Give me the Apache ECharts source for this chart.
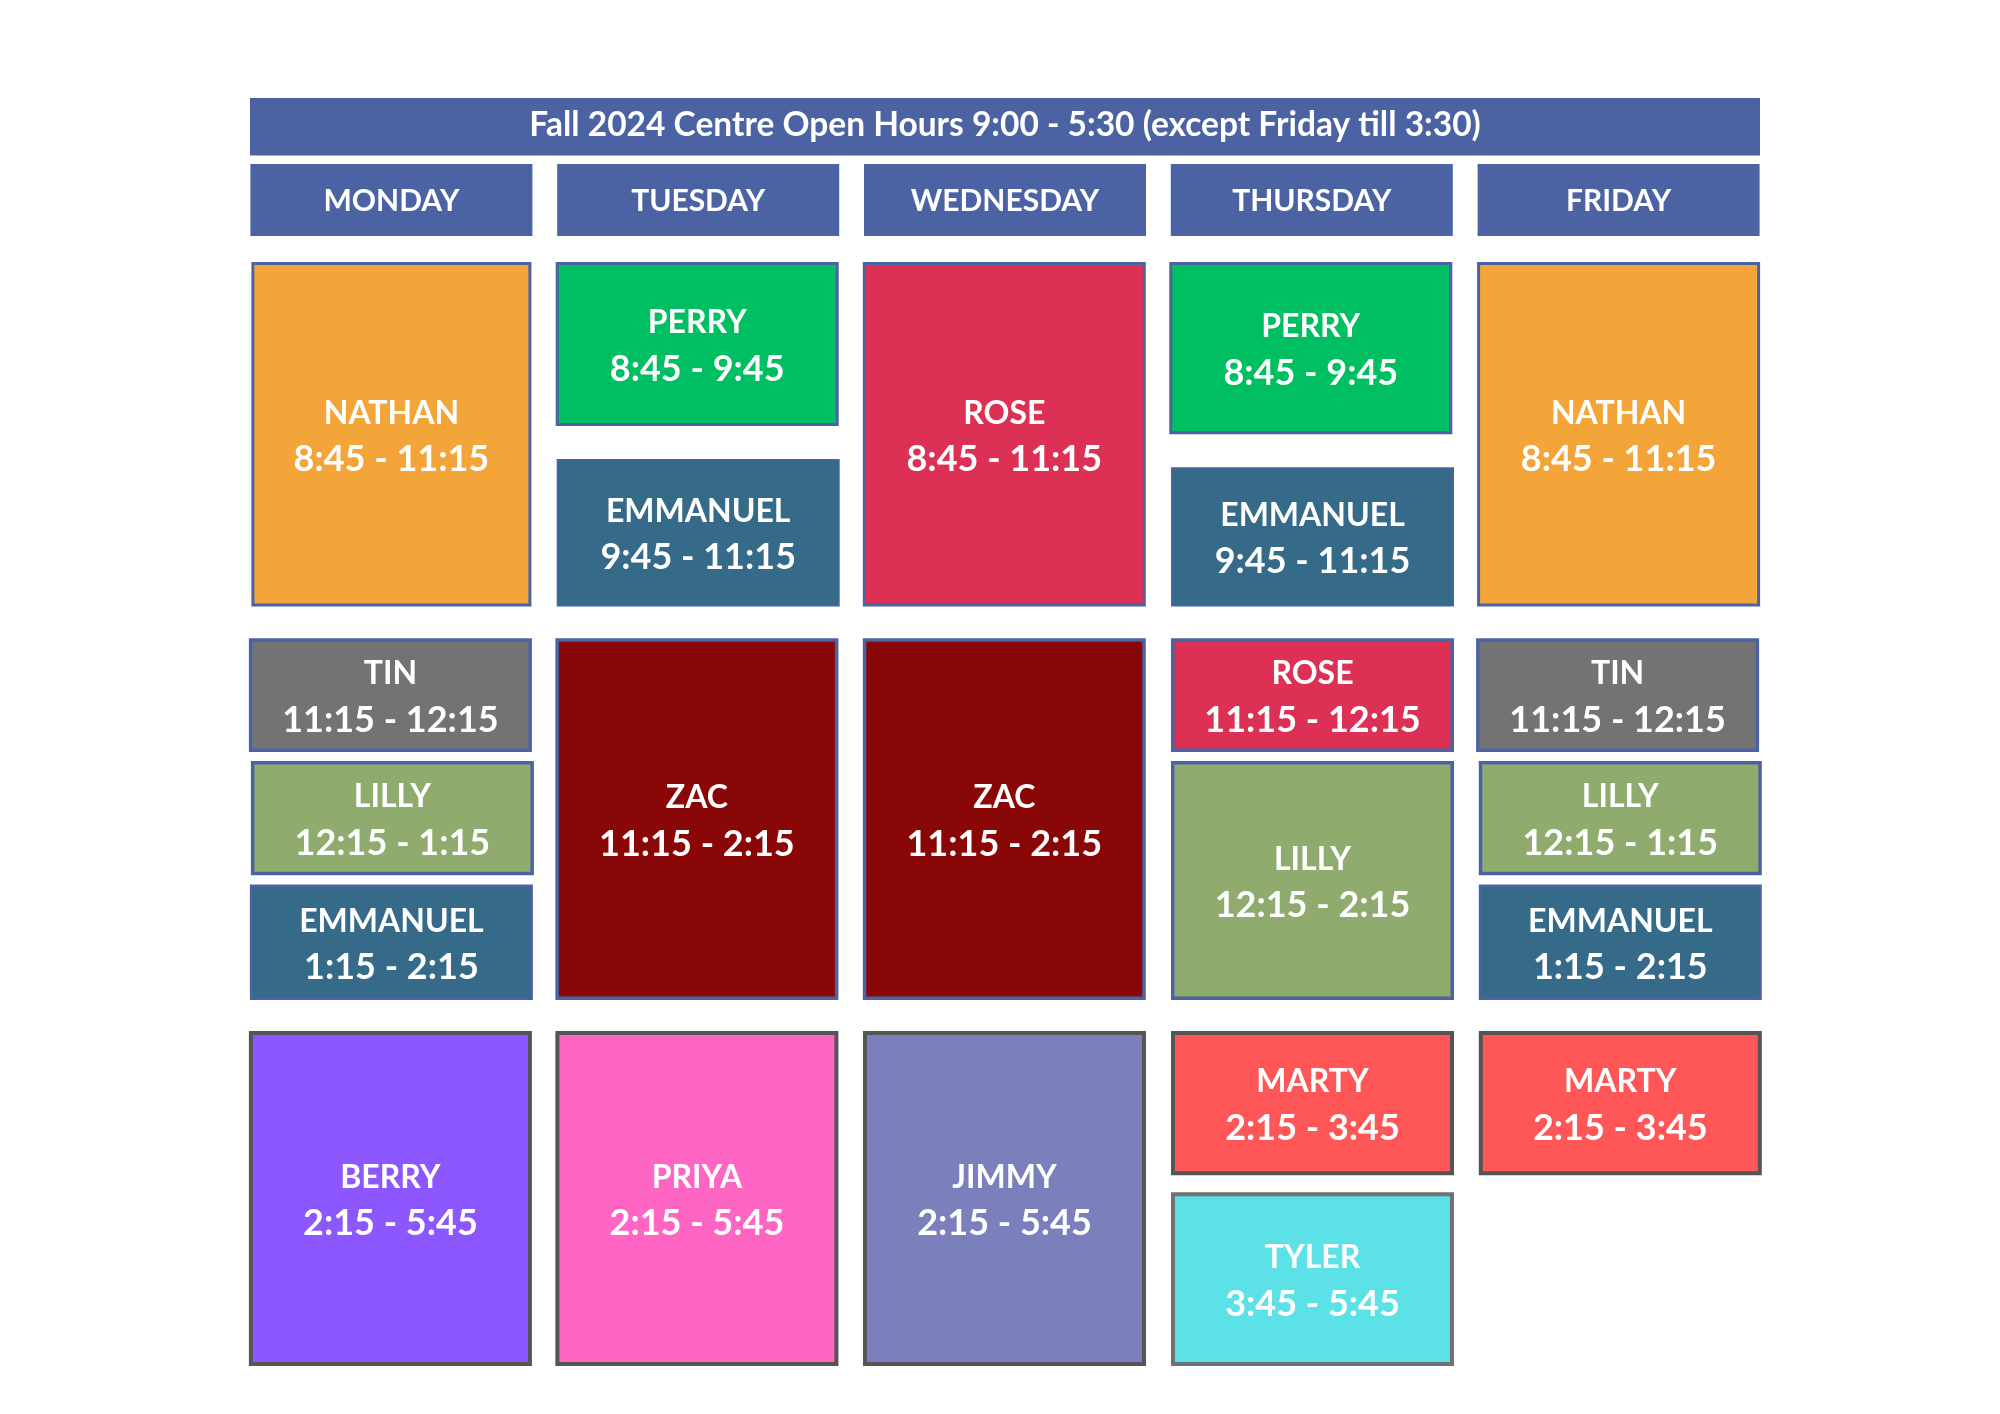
<!DOCTYPE html>
<html>
    <head>
        <meta charset="utf-8">
        <title>Fall 2024 Centre Open Hours</title>
        <script src="https://cdn.jsdelivr.net/npm/echarts@6/dist/echarts.min.js"></script>
        <style>
            html, body { margin: 0; padding: 0; background: #fff; }
        </style>
    </head>
    <body>

        <div id="main" style="width: 2000px;height: 1414px;"></div>

        <script type="text/javascript">

            var titleText = 'Fall 2024 Centre Open Hours 9:00 - 5:30 (except Friday till 3:30)';
            var days = ['MONDAY', 'TUESDAY', 'WEDNESDAY', 'THURSDAY', 'FRIDAY'];

            // one entry per block on the timetable
            var blockDay = [0, 1, 1, 2, 3, 3, 4,
                            0, 0, 0, 1, 2, 3, 3, 4, 4, 4,
                            0, 1, 2, 3, 3, 4];
            var blockName = ['NATHAN', 'PERRY', 'EMMANUEL', 'ROSE', 'PERRY', 'EMMANUEL', 'NATHAN',
                             'TIN', 'LILLY', 'EMMANUEL', 'ZAC', 'ZAC', 'ROSE', 'LILLY', 'TIN', 'LILLY', 'EMMANUEL',
                             'BERRY', 'PRIYA', 'JIMMY', 'MARTY', 'TYLER', 'MARTY'];
            var blockStart = ['8:45', '8:45', '9:45', '8:45', '8:45', '9:45', '8:45',
                              '11:15', '12:15', '1:15', '11:15', '11:15', '11:15', '12:15', '11:15', '12:15', '1:15',
                              '2:15', '2:15', '2:15', '2:15', '3:45', '2:15'];
            var blockEnd = ['11:15', '9:45', '11:15', '11:15', '9:45', '11:15', '11:15',
                            '12:15', '1:15', '2:15', '2:15', '2:15', '12:15', '2:15', '12:15', '1:15', '2:15',
                            '5:45', '5:45', '5:45', '3:45', '5:45', '3:45'];

            // where each clock time sits on the (hidden) y axis.
            // the sheet is not drawn to scale, so start and end have their own tables
            var startAt = {'8:45': 0, '9:45': 96.4, '11:15': 184, '12:15': 244.1, '1:15': 304.5, '2:15': 376.2, '3:45': 455};
            var endAt = {'9:45': 80.2, '11:15': 168.5, '12:15': 239.7, '1:15': 299.9, '2:15': 361, '3:45': 446.7, '5:45': 540};

            var personColor = {
                NATHAN: '#f4a53a', PERRY: '#00bf63', EMMANUEL: '#366a89', ROSE: '#dc3154',
                TIN: '#737373', LILLY: '#8fab6e', ZAC: '#8a0707', BERRY: '#8c57ff',
                PRIYA: '#ff66c4', JIMMY: '#7b7fbc', MARTY: '#ff5757', TYLER: '#5ce1e6'
            };

            var headerColor = '#4c63a3';
            var fontName = 'Lato';

            var mChart = echarts.init(document.getElementById('main'));

            var rows = [];
            for (var i = 0; i < blockName.length; i++) {
                // Thursday's morning split sits a little lower than Tuesday's
                var thu = blockDay[i] === 3;
                var yFrom = startAt[blockStart[i]] + (thu && blockStart[i] === '9:45' ? 4 : 0);
                var yTo = endAt[blockEnd[i]] + (thu && blockEnd[i] === '9:45' ? 4 : 0);
                rows.push([blockDay[i], yFrom, yTo]);
            }

            // blocks were placed by hand in the original: small sideways offsets, in px
            var nudge = [0, -1, 0, -0.7, -1, 0.7, 0,
                         -1, 1, 0, -1.3, -0.7, 0.7, 0.7, -1, 1.7, 1.7,
                         -1, -1.3, -0.5, 0.7, 0.7, 1.7];

            function borderOf(i) {
                if (blockName[i] === 'TYLER') return '#6f7274';
                return blockEnd[i] === '5:45' || blockEnd[i] === '3:45' ? '#555555' : headerColor;
            }

            function borderWidth(i) {
                if (blockStart[i] === '9:45') return 1.5;
                if (blockStart[i] === '1:15') return 2.5;
                if (blockStart[i] === '8:45') return 3;
                return blockEnd[i] === '5:45' || blockEnd[i] === '3:45' ? 4 : 3.5;
            }

            function drawBlock(params, api) {
                var i = params.dataIndex;
                var a = api.coord([api.value(0), api.value(1)]);
                var b = api.coord([api.value(0), api.value(2)]);
                var w = api.size([1, 0])[0] * 0.9225;
                if (blockName[i] === 'NATHAN' && blockDay[i] === 0) w -= 3;
                var cx = a[0] + nudge[i];
                var lw = borderWidth(i);
                return {
                    type: 'rect',
                    shape: { x: cx - w / 2 + lw / 2, y: a[1] + lw / 2, width: w - lw, height: b[1] - a[1] - lw },
                    style: { fill: personColor[blockName[i]], stroke: borderOf(i), lineWidth: lw },
                    textContent: {
                        style: {
                            text: '{n|' + blockName[i] + '}\n{t|' + blockStart[i] + ' - ' + blockEnd[i] + '}',
                            fill: '#ffffff',
                            align: 'center',
                            verticalAlign: 'middle',
                            rich: {
                                n: { font: '700 32px ' + fontName, lineHeight: 46, fill: '#ffffff' },
                                t: { font: '700 36px ' + fontName, lineHeight: 46, fill: '#ffffff' }
                            }
                        }
                    },
                    textConfig: { position: 'inside', offset: [0, 2] }
                };
            }

            var option = {
                animation: false,
                backgroundColor: '#ffffff',
                graphic: [{
                    type: 'rect',
                    z: 0,
                    shape: { x: 250, y: 98, width: 1510, height: 57.5 },
                    style: { fill: headerColor }
                }],
                title: {
                    text: titleText,
                    left: 1005,
                    top: 125,
                    padding: 0,
                    textAlign: 'center',
                    textVerticalAlign: 'middle',
                    textStyle: {
                        color: '#ffffff',
                        fontFamily: fontName,
                        fontWeight: 700,
                        fontSize: 33.5
                    }
                },
                grid: { left: 238, top: 262, width: 1534, height: 1104 },
                xAxis: {
                    type: 'category',
                    position: 'top',
                    data: days,
                    axisLine: { show: false },
                    axisTick: { show: false },
                    axisLabel: {
                        interval: 0,
                        margin: 26,
                        color: '#ffffff',
                        fontFamily: fontName,
                        fontWeight: 700,
                        fontSize: 30,
                        backgroundColor: headerColor,
                        width: 282,
                        height: 72,
                        lineHeight: 70,
                        align: 'center',
                        verticalAlign: 'bottom'
                    }
                },
                yAxis: {
                    type: 'value',
                    inverse: true,
                    min: 0,
                    max: 540,
                    show: false
                },
                series: [{
                    type: 'custom',
                    renderItem: drawBlock,
                    data: rows,
                    clip: false,
                    encode: { x: 0, y: [1, 2] }
                }]
            };

            mChart.setOption(option);
        </script>
    </body>
</html>
